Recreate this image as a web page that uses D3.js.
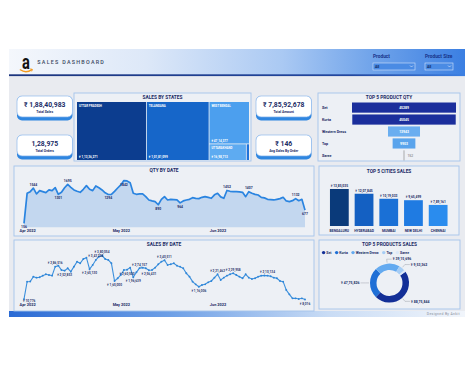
<!DOCTYPE html>
<html><head><meta charset="utf-8">
<script src="https://cdn.jsdelivr.net/npm/d3@7"></script>
<style>body{margin:0;background:#fff}svg{display:block}text{font-family:Roboto,"Noto Sans",sans-serif}</style>
</head><body>
<script>
// ---------------- DATA ----------------
const kpiLabels = ["Total Sales","Total Orders","Total Amount","Avg Sales By Order"];
const kpiValues = ["₹ 1,88,40,983","1,28,975","₹ 7,85,92,678","₹ 146"];
const states = ["UTTAR PRADESH","TELANGANA","WEST BENGAL","UTTARAKHAND","DELHI"];
const stateSales = [11336271,10181099,4714377,1698713,140000];
const productCats = ["Set","Kurta","Western Dress","Top","Saree"];
const productQty = [45289,45045,13943,9903,152];
const cities = ["BENGALURU","HYDERABAD","MUMBAI","NEW DELHI","CHENNAI"];
const citySales = [1385035,1207845,1019033,965499,789161];
const productSales = [8875844,4775826,3915696,953362,320255];
const firstDay = "2022-03-31";
const qtyByDate = [156,1341,1407,1544,1315,1446,1407,1367,1473,1446,
 1565,1301,1380,1560,1695,1578,1473,1420,1380,1499,
 1644,1499,1446,1631,1560,1473,1360,1294,1301,1420,
 1550,1670,1842,1828,1762,1341,1301,1315,1315,1209,
 1078,1040,1012,890,1100,1209,1078,1104,1090,1078,
 964,1040,1078,1104,1170,1144,1130,1183,1209,1180,
 1144,1280,1341,1200,1144,1452,1420,1407,1407,1400,
 1380,1209,1407,1341,1300,1275,1183,1160,1104,1090,
 1078,1104,1130,1183,1040,1012,1050,1132,1050,1104,
 677];
const salesByDate = [10776,159158,160500,201638,193142,195974,210134,221462,215798,210134,
 286516,295094,258278,252853,272438,244118,286598,329078,314918,351734,
 363062,265130,300758,343238,371558,380054,351734,343238,314918,165000,
 187478,215798,258278,260500,278102,196639,238454,274157,278102,272438,
 256431,258278,278102,306422,329078,340511,300758,306422,314918,295094,
 286598,272438,229958,201638,159158,136502,116006,130838,136502,153494,
 164822,193142,221462,173318,193142,210134,221462,229958,215798,201638,
 187478,221462,193142,181814,187478,201638,210134,212000,210134,205000,
 193142,187478,164822,159158,88358,51542,17558,17558,11894,17558,
 8016];
const qtyLabelDays = [0,3,11,14,27,32,43,50,65,72,87,90];
const salesLabelDays = [0,10,13,21,23,25,29,33,35,37,40,45,56,62,67,78,90];
const dateTicks = ["Apr 2022","May 2022","Jun 2022"];

// ---------------- HELPERS ----------------
function inr(n){const s=Math.round(n).toString();if(s.length<=3)return s;const l=s.slice(-3);const r=s.slice(0,-3).replace(/\B(?=(\d{2})+(?!\d))/g,",");return r+","+l;}
const NAVY="#1b2c66";
const svg=d3.select("body").append("svg").attr("width",474).attr("height",366);
const defs=svg.append("defs");
function lg(id,stops){const g=defs.append("linearGradient").attr("id",id).attr("x1",0).attr("x2",1).attr("y1",0).attr("y2",0);stops.forEach(([o,c])=>g.append("stop").attr("offset",o).attr("stop-color",c));}
lg("hdr",[[0,"#f4f7fc"],[0.3,"#dde8f8"],[0.6,"#aac9f3"],[0.8,"#6fa3ea"],[1,"#3b7fe2"]]);
lg("hline",[[0,"#1c357e"],[0.75,"#2348a0"],[1,"#3b7fe2"]]);
lg("foot",[[0,"#2a6ad4"],[0.35,"#6d9fe6"],[0.7,"#c9dcf5"],[1,"#f1f5fb"]]);
function txt(g,x,y,s,size,opt={}){return g.append("text").attr("x",x).attr("y",y).attr("font-size",size)
  .attr("font-weight",opt.w||700).attr("fill",opt.c||NAVY).attr("text-anchor",opt.a||"start").text(s);}
function panel(x,y,w,h,title,ty){
  svg.append("rect").attr("x",x).attr("y",y).attr("width",w).attr("height",h).attr("fill","#edf0f5").attr("stroke","#a4c3ec").attr("stroke-width",0.9);
  txt(svg,x+w/2,ty,title,4.8,{a:"middle"});
}

// ---------------- BACKGROUND / HEADER ----------------
svg.append("rect").attr("x",9).attr("y",76).attr("width",456).attr("height",236).attr("fill","#e9ebf0");
svg.append("rect").attr("x",9).attr("y",49).attr("width",456).attr("height",26).attr("fill","url(#hdr)");
svg.append("rect").attr("x",9).attr("y",74.3).attr("width",456).attr("height",1.8).attr("fill","url(#hline)");
svg.append("rect").attr("x",9).attr("y",311).attr("width",456).attr("height",6).attr("fill","url(#foot)");
txt(svg,460,314.5,"Designed By Ankit",3.4,{a:"end",c:"#8a8f99",w:400}).attr("letter-spacing",0.35);

svg.append("text").attr("transform","translate(26,68.5) scale(0.95,1.35)").attr("text-anchor","middle")
  .attr("font-family","'Liberation Sans',Arial,sans-serif").attr("font-weight",700).attr("font-size",15.5).attr("fill","#111").text("a");
svg.append("path").attr("d","M20.3,69.8 Q26,73.8 31.8,69.6").attr("fill","none").attr("stroke","#f39a1e").attr("stroke-width",1.3).attr("stroke-linecap","round");
svg.append("path").attr("d","M30.2,68.8 L32.4,69.4 L31.7,71.4").attr("fill","none").attr("stroke","#f39a1e").attr("stroke-width",0.9);
txt(svg,37.3,64,"SALES DASHBOARD",5.4,{c:"#3b4a63",w:500}).attr("letter-spacing",1.25);

[["Product",373,42],["Product Size",425,28]].forEach(([t,x,w])=>{
  txt(svg,x,57.5,t,4.8,{c:"#17348a"});
  svg.append("rect").attr("x",x).attr("y",63).attr("width",w).attr("height",7).attr("fill","#4a8be4").attr("stroke","#d3e3fa").attr("stroke-width",0.6);
  txt(svg,x+2,68,"All",3.6,{c:"#10245e"});
  svg.append("path").attr("d",`M${x+w-5},65.5 l1.5,1.5 l1.5,-1.5`).attr("fill","none").attr("stroke","#e6efff").attr("stroke-width",0.6);
});

// ---------------- KPI CARDS ----------------
const cardPos=[[17,96],[17,135],[256,96],[256,135]];
kpiValues.forEach((v,i)=>{
  const [x,y]=cardPos[i], w=55.5, h=24.5;
  svg.append("rect").attr("x",x).attr("y",y).attr("width",w).attr("height",h).attr("rx",5).attr("fill","#2f86e0");
  svg.append("rect").attr("x",x).attr("y",y).attr("width",w).attr("height",h-3.6).attr("rx",5).attr("fill","#fff").attr("stroke","#8fb9ec").attr("stroke-width",0.7);
  txt(svg,x+w/2,y+10.8,v,6.8,{a:"middle"});
  txt(svg,x+w/2,y+17.2,kpiLabels[i],3.4,{a:"middle"});
});

// ---------------- TREEMAP ----------------
panel(74,93,177,68,"SALES BY STATES",99.3);
const leaves=states.map((n,i)=>({name:n,value:stateSales[i],i}));
const root=d3.hierarchy({children:[leaves[0],leaves[1],{children:[leaves[2],{children:[leaves[3],leaves[4]]}]}]}).sum(d=>d.value||0);
d3.treemap().tile(d3.treemapSliceDice).size([172,58]).paddingInner(0.8)(root);
const tmColors=["#0c3d8f","#1666c9","#4c9fee","#5eabf1","#2173d9"];
const tg=svg.append("g").attr("transform","translate(77,102)");
root.leaves().forEach(l=>{
  tg.append("rect").attr("x",l.x0).attr("y",l.y0).attr("width",l.x1-l.x0).attr("height",l.y1-l.y0).attr("fill",tmColors[l.data.i]);
  if(l.x1-l.x0>10){
    txt(tg,l.x0+2,l.y0+4.5,l.data.name,2.9,{c:"#fff"});
    txt(tg,l.x0+2,l.y1-2,"₹ "+inr(l.data.value),3.1,{c:"#fff"});
  }
});

// ---------------- FUNNEL ----------------
panel(318,93,142,68,"TOP 5 PRODUCT QTY",99);
const fx=d3.scaleLinear().domain([0,d3.max(productQty)]).range([0,104]);
const fy=d3.scaleBand().domain(productCats).range([102.5,160.5]).paddingInner(0.15);
const fColors=["#1b2e9c","#1b2e9c","#6aaef0","#5aa4ec","#9a9a9a"];
productCats.forEach((c,i)=>{
  const w=Math.max(fx(productQty[i]),0.8), yy=fy(c), bh=fy.bandwidth();
  svg.append("rect").attr("x",404-w/2).attr("y",yy).attr("width",w).attr("height",bh).attr("fill",fColors[i]);
  txt(svg,322,yy+bh/2+1.3,c,3.7);
  if(w>15) txt(svg,404,yy+bh/2+1.3,String(productQty[i]),3.4,{a:"middle",c:"#fff"});
  else txt(svg,404+w/2+3,yy+bh/2+1.3,String(productQty[i]),3.4,{c:"#666",w:400});
});

// ---------------- CITIES ----------------
panel(319,166,140,69,"TOP 5 CITIES SALES",172.5);
const cxs=d3.scaleBand().domain(cities).range([327,450.5]).paddingInner(0.24).paddingOuter(0.12);
const cys=d3.scaleLinear().domain([0,d3.max(citySales)]).range([226,189]);
const cColors=["#0a3a7a","#1460c2","#1a70d6","#1f7be2","#2a8cee"];
cities.forEach((c,i)=>{
  const x=cxs(c), bw=cxs.bandwidth();
  svg.append("rect").attr("x",x).attr("y",cys(citySales[i])).attr("width",bw).attr("height",226-cys(citySales[i])).attr("fill",cColors[i]);
  txt(svg,x+bw/2,cys(citySales[i])-2,"₹ "+inr(citySales[i]),3.3,{a:"middle"});
  txt(svg,x+bw/2,231.8,c,3.4,{a:"middle"});
});

// ---------------- LINE CHARTS ----------------
const d0=d3.timeParse("%Y-%m-%d")(firstDay);
const days=d3.range(91).map(i=>d3.timeDay.offset(d0,i));
const x=d3.scaleTime().domain([days[0],days[90]]).range([24,305]);
const tickDates=dateTicks.map(d3.timeParse("%b %Y"));
function axis(yPos){
  const g=svg.append("g").attr("transform",`translate(0,${yPos})`)
    .call(d3.axisBottom(x).tickValues(tickDates).tickFormat(d3.timeFormat("%b %Y")).tickSize(0).tickPadding(0));
  g.select(".domain").remove();
  g.selectAll("text").attr("font-size",3.9).attr("font-weight",700).attr("fill",NAVY).attr("font-family","Roboto,sans-serif");
}
function isPeak(arr,i){const a=arr[i-1]??arr[i+1],b=arr[i+1]??arr[i-1];return arr[i]>=(a+b)/2;}
// QTY
panel(14,166,300,70,"QTY BY DATE",172.3);
const yq=d3.scaleLinear().domain([0,1905]).range([227.3,179]);
svg.append("path").datum(qtyByDate).attr("fill","#c3d7ef")
  .attr("d",d3.area().x((d,i)=>x(days[i])).y0(227.3).y1(d=>yq(d)));
svg.append("path").datum(qtyByDate).attr("fill","none").attr("stroke","#2a84e0").attr("stroke-width",1.7).attr("stroke-linejoin","round")
  .attr("d",d3.line().x((d,i)=>x(days[i])).y(d=>yq(d)));
qtyLabelDays.forEach(i=>{
  const v=qtyByDate[i]; let up=isPeak(qtyByDate,i); let yy=yq(v)+(up?-2.5:5);
  if(up && yy<180){yy=yq(v)+5.5;}
  txt(svg,x(days[i]),yy,String(v),3.4,{a:"middle"});
});
axis(229.3);

// SALES
panel(14,240,300,71,"SALES BY DATE",246);
const ys=d3.scaleLinear().domain([0,400000]).range([300.4,253.3]);
svg.append("path").datum(salesByDate).attr("fill","none").attr("stroke","#3b8fdc").attr("stroke-width",1.1)
  .attr("d",d3.line().x((d,i)=>x(days[i])).y(d=>ys(d)));
svg.selectAll(".sdot").data(salesByDate).join("circle").attr("cx",(d,i)=>x(days[i])).attr("cy",d=>ys(d)).attr("r",0.95).attr("fill","#2f86d8");
salesLabelDays.forEach(i=>{
  const v=salesByDate[i]; const up=isPeak(salesByDate,i);
  if(i===0){ txt(svg,x(days[i])-1,ys(v)+2.8,"₹ "+inr(v),3.2,{w:600}); return; }
  txt(svg,x(days[i]),ys(v)+(up?-2.5:5.2),"₹ "+inr(v),3.2,{a:"middle",w:600});
});
axis(303.3);

// ---------------- DONUT ----------------
panel(319,240,141,69,"TOP 5 PRODUCTS SALES",245.8);
const dColors=["#132f97","#1f6fd6","#64aaf0","#a6cdf5","#dbe8f8"];
let lx=322;
productCats.forEach((c,i)=>{
  svg.append("circle").attr("cx",lx+1.6).attr("cy",252.6).attr("r",1.7).attr("fill",dColors[i]);
  const t=txt(svg,lx+4.3,254,c,3.5);
  lx+=4.3+t.node().getComputedTextLength()+3.5;
});
const dcx=389.5,dcy=283;
const off=55*Math.PI/180;
const pie=d3.pie().sort(null).startAngle(off).endAngle(off+2*Math.PI);
const arcs=pie(productSales);
const arc=d3.arc().innerRadius(13).outerRadius(19.5);
const dg=svg.append("g").attr("transform",`translate(${dcx},${dcy})`);
dg.selectAll("path").data(arcs).join("path").attr("d",arc).attr("fill",(d,i)=>dColors[i]);
arcs.forEach((a,i)=>{
  if(a.endAngle-a.startAngle<0.2) return;
  const m=(a.startAngle+a.endAngle)/2; const s=Math.sin(m), co=-Math.cos(m);
  const p1=[20.5*s,20.5*co], p2=[24*s,24*co];
  const right = !(m>Math.PI && m<2*Math.PI-0.35);
  const p3=[p2[0]+(right?5:-5),p2[1]];
  dg.append("path").attr("d",`M${p1}L${p2}L${p3}`).attr("fill","none").attr("stroke","#8a8f99").attr("stroke-width",0.4);
  txt(dg,p3[0]+(right?1:-1),p3[1]+1.2,"₹ "+inr(productSales[i]),3.5,{a:right?"start":"end"});
});
</script></body></html>
